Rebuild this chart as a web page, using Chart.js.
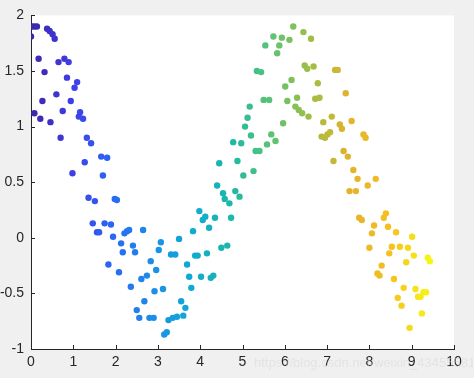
<!DOCTYPE html>
<html>
<head>
<meta charset="utf-8">
<script src="https://cdn.jsdelivr.net/npm/chart.js@4"></script>
<style>
	html, body { margin: 0; padding: 0; background: #f0f0f0; }
	canvas { display: block; }
</style>
</head>
<body>
<canvas id="chart" width="474" height="378"></canvas>
<script>
// scatter values
const xValues = [
	0.00, 0.02, 0.08, 0.14, 0.38, 0.44, 0.51, 0.56, 0.18, 0.32, 0.65, 0.79, 0.89, 0.85, 1.09, 1.03, 0.60, 0.27, 0.94, 0.75,
	0.08, 0.22, 0.46, 1.16, 1.13, 1.23, 0.70, 1.32, 1.42, 1.27, 1.66, 1.80, 0.98, 1.70,
	1.36, 1.51, 1.98, 2.03, 1.46, 1.74, 1.89, 1.56, 1.61, 1.94, 2.21, 2.27, 2.32, 2.65, 2.13, 2.41,
	2.17, 2.46, 1.83, 2.08, 2.83, 2.96, 2.74, 2.61, 2.36, 2.92, 2.68, 2.50, 2.56, 2.80, 2.90,
	3.07, 3.02, 3.12, 3.50, 3.31, 3.41, 3.69, 3.83, 3.88, 3.94, 3.98, 4.06, 4.12, 4.21, 4.35, 4.16,
	3.74, 4.02, 4.25, 4.31, 3.79, 3.55, 3.65, 3.60, 3.25, 3.35, 3.45, 3.15, 3.21, 4.40, 4.54, 4.58,
	4.69, 4.83, 4.93, 4.73, 4.50, 4.64,
	4.45, 4.88, 5.02, 5.26, 4.78, 4.97, 5.06, 5.12, 5.17, 5.20, 5.31, 5.40, 5.58, 5.68, 5.78, 5.96,
	5.50, 5.63, 6.06, 6.29, 6.25, 6.33, 6.41, 6.56, 5.34, 5.44, 6.01, 6.16, 6.47, 6.53, 5.54, 5.73,
	5.82, 5.87, 5.93, 6.11, 6.20, 6.44, 6.62,
	6.68, 6.78, 6.72, 6.82, 6.91, 7.11, 6.87, 6.95, 7.01, 7.07, 7.19, 7.25, 7.44, 7.30, 7.35, 7.58,
	7.86, 7.91, 7.39, 7.49, 7.15, 7.62, 7.72, 7.96, 8.15, 7.53, 7.68,
	7.76, 7.82, 8.39, 8.34, 8.11, 8.44, 8.06, 8.63, 9.01, 8.00, 8.53, 8.72, 8.91, 8.47, 9.05, 9.38,
	9.43, 8.87, 8.29, 8.19, 8.24, 8.58, 8.81, 9.09, 9.28, 9.34, 9.15, 9.21, 8.67, 8.76, 9.24, 8.95
];
const yValues = [
	1.81, 1.90, 1.90, 1.90, 1.88, 1.86, 1.83, 1.79, 1.61, 1.49, 1.58, 1.61, 1.58, 1.44, 1.40, 1.35, 1.29, 1.23, 1.23, 1.14,
	1.12, 1.07, 1.04, 1.13, 1.09, 1.07, 0.90, 0.90, 0.85, 0.68, 0.73, 0.72, 0.58, 0.56,
	0.36, 0.33, 0.35, 0.34, 0.13, 0.13, 0.12, 0.05, 0.05, 0.01, 0.04, 0.06, 0.07, 0.07, -0.05, -0.07,
	-0.13, -0.13, -0.24, -0.31, -0.21, -0.29, -0.34, -0.37, -0.44, -0.48, -0.57, -0.65, -0.72, -0.72, -0.72,
	-0.04, -0.11, -0.46, -0.01, -0.15, -0.15, -0.24, 0.06, -0.16, -0.16, 0.24, 0.16, 0.19, 0.09, 0.18, -0.14,
	-0.35, -0.35, -0.36, -0.34, -0.45, -0.57, -0.63, -0.70, -0.74, -0.72, -0.71, -0.87, -0.85, 0.47, 0.40, 0.35,
	0.31, 0.42, 0.37, 0.18, -0.09, -0.07,
	0.67, 0.69, 0.56, 0.60, 0.86, 0.85, 1.00, 1.08, 1.18, 0.92, 0.78, 0.78, 0.84, 0.93, 0.87, 1.03,
	1.24, 1.24, 1.23, 1.26, 1.18, 1.15, 1.12, 1.09, 1.50, 1.49, 1.36, 1.42, 1.55, 1.52, 1.73, 1.81,
	1.66, 1.73, 1.80, 1.78, 1.90, 1.85, 1.79,
	1.54, 1.39, 1.25, 1.26, 1.04, 1.09, 0.91, 0.90, 0.93, 0.95, 1.51, 1.51, 1.30, 1.02, 0.98, 1.05,
	0.93, 0.90, 0.78, 0.73, 0.69, 0.61, 0.53, 0.47, 0.53, 0.42, 0.42,
	0.18, 0.16, 0.22, 0.18, 0.11, 0.10, 0.04, 0.05, 0.01, -0.09, -0.08, -0.08, -0.09, -0.14, -0.16, -0.18,
	-0.21, -0.22, -0.25, -0.32, -0.34, -0.37, -0.45, -0.46, -0.49, -0.49, -0.53, -0.53, -0.54, -0.61, -0.68, -0.81
];
const xTicks = [0, 1, 2, 3, 4, 5, 6, 7, 8, 9, 10];
const yTicks = [-1, -0.5, 0, 0.5, 1, 1.5, 2];

const watermark = 'https://blog.csdn.net/weixin_43455581';

// parula-like colormap
const parula = [
	[0.00, [62, 38, 168]],
	[0.10, [65, 60, 230]],
	[0.20, [42, 102, 245]],
	[0.30, [30, 140, 232]],
	[0.40, [14, 170, 212]],
	[0.50, [28, 184, 168]],
	[0.60, [90, 195, 118]],
	[0.70, [160, 190, 68]],
	[0.80, [228, 178, 45]],
	[0.90, [246, 192, 32]],
	[1.00, [246, 245, 20]],
];

const colorFor = (t) => {
	t = Math.max(0, Math.min(1, t));
	for (let i = 1; i < parula.length; i++) {
		if (t <= parula[i][0]) {
			const [t0, c0] = parula[i - 1];
			const [t1, c1] = parula[i];
			const f = (t - t0) / (t1 - t0);
			const c = c0.map((v, k) => Math.round(v + (c1[k] - v) * f));
			return `rgb(${c[0]},${c[1]},${c[2]})`;
		}
	}
	return 'rgb(246,245,20)';
};

const xMax = Math.max(...xValues);
const points = xValues.map((x, i) => ({ x: x, y: yValues[i] }));
const colors = xValues.map((x) => colorFor(x / xMax));

const axisColor = '#262626';
const fontFamily = '"Liberation Sans", Arial, sans-serif';

const backgroundPlugin = {
	id: 'background',
	beforeDraw: (chart) => {
		const { ctx, chartArea } = chart;
		ctx.save();
		ctx.fillStyle = '#f0f0f0';
		ctx.fillRect(0, 0, chart.width, chart.height);
		ctx.fillStyle = '#ffffff';
		ctx.fillRect(chartArea.left, chartArea.top, chartArea.right - chartArea.left, chartArea.bottom - chartArea.top);
		ctx.restore();
	},
};

// matlab style ticks pointing into the axes
const innerTicksPlugin = {
	id: 'innerTicks',
	afterDatasetsDraw: (chart) => {
		const { ctx, chartArea, scales } = chart;
		const len = 4;
		ctx.save();
		ctx.strokeStyle = axisColor;
		ctx.lineWidth = 1;
		ctx.beginPath();
		xTicks.forEach((v) => {
			const px = Math.round(scales.x.getPixelForValue(v)) + 0.5;
			ctx.moveTo(px, chartArea.bottom);
			ctx.lineTo(px, chartArea.bottom - len);
		});
		yTicks.forEach((v) => {
			const py = Math.round(scales.y.getPixelForValue(v)) + 0.5;
			ctx.moveTo(chartArea.left, py);
			ctx.lineTo(chartArea.left + len, py);
		});
		ctx.stroke();

		ctx.font = '13px ' + fontFamily;
		ctx.fillStyle = 'rgba(215, 215, 215, 0.5)';
		ctx.textBaseline = 'middle';
		ctx.fillText(watermark, 254, 363);
		ctx.restore();
	},
};

new Chart(document.getElementById('chart'), {
	type: 'scatter',
	data: {
		datasets: [
			{
				data: points,
				pointBackgroundColor: colors,
				pointBorderWidth: 0,
				pointRadius: 3.2,
			},
		],
	},
	options: {
		responsive: false,
		animation: false,
		layout: {
			padding: { left: 0, right: 20, top: 15, bottom: 0 },
		},
		plugins: {
			legend: { display: false },
			tooltip: { enabled: false },
		},
		scales: {
			x: {
				type: 'linear',
				min: 0,
				max: 10,
				afterBuildTicks: (s) => {
					s.ticks = xTicks.map((v) => ({ value: v }));
				},
				afterFit: (s) => {
					s.height = 29;
				},
				ticks: {
					color: axisColor,
					font: { family: fontFamily, size: 14 },
					padding: 5,
					maxRotation: 0,
				},
				grid: { drawOnChartArea: false, drawTicks: false },
				border: { color: axisColor, width: 1 },
			},
			y: {
				type: 'linear',
				min: -1,
				max: 2,
				afterBuildTicks: (s) => {
					s.ticks = yTicks.map((v) => ({ value: v }));
				},
				afterFit: (s) => {
					s.width = 31;
				},
				ticks: {
					color: axisColor,
					font: { family: fontFamily, size: 14 },
					padding: 7,
					callback: (v) => String(v),
				},
				grid: { drawOnChartArea: false, drawTicks: false },
				border: { color: axisColor, width: 1 },
			},
		},
	},
	plugins: [backgroundPlugin, innerTicksPlugin],
});
</script>
</body>
</html>
